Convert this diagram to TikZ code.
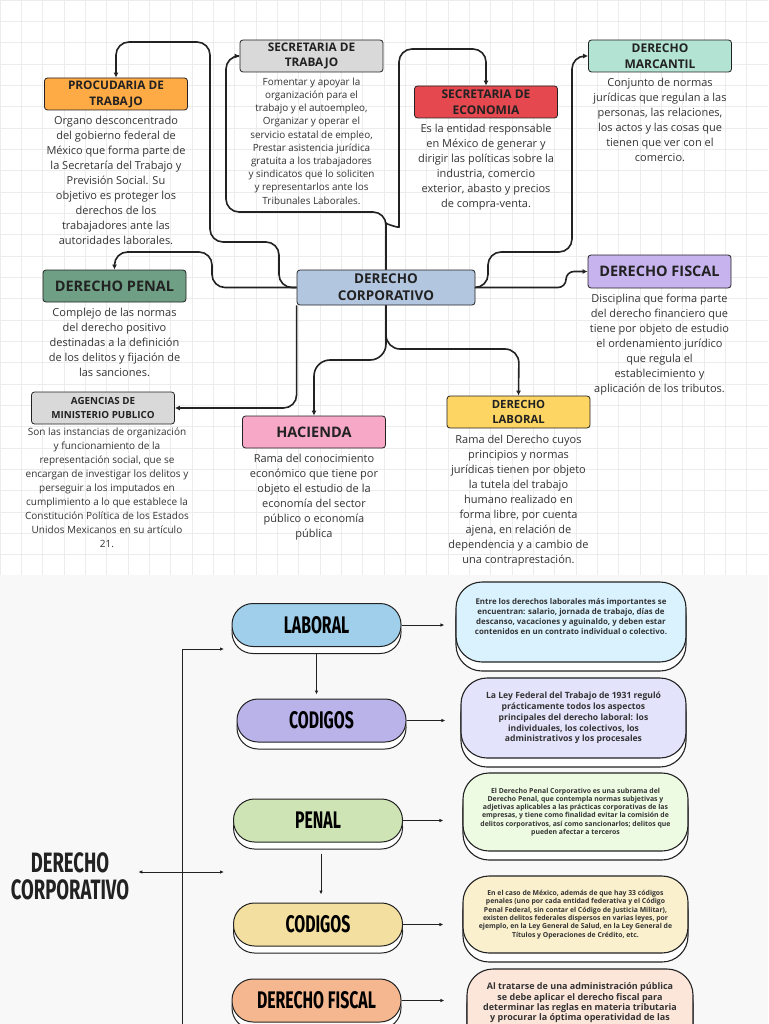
\documentclass[tikz,border=0pt]{standalone}
\usepackage{fontspec}
\setmainfont{Open Sans}
\newfontfamily\handfont[FakeStretch=0.66]{Fira Sans}
\usepackage{tikz}
\usetikzlibrary{arrows.meta, shadows}

\definecolor{ink}{HTML}{222222}
\definecolor{textgray}{HTML}{333333}
\definecolor{gridgray}{HTML}{ECECEC}
\definecolor{lowbg}{HTML}{F8F8F8}
\definecolor{procorange}{HTML}{FFAB45}
\definecolor{boxgray}{HTML}{D9D9D9}
\definecolor{ecored}{HTML}{E5484F}
\definecolor{mercmint}{HTML}{B3E3D3}
\definecolor{penalgreen}{HTML}{6FA085}
\definecolor{corpblue}{HTML}{B3C6E0}
\definecolor{fiscallav}{HTML}{C7B4EF}
\definecolor{hacpink}{HTML}{F6A8C6}
\definecolor{labyellow}{HTML}{FDD562}
\definecolor{pillblue}{HTML}{9FCFEA}
\definecolor{pillviolet}{HTML}{B9B3EA}
\definecolor{pillgreen}{HTML}{CFE4B5}
\definecolor{pillsand}{HTML}{F3DF9F}
\definecolor{pillpeach}{HTML}{F4B78F}
\definecolor{infoblue}{HTML}{D9F2FE}
\definecolor{infoviolet}{HTML}{E3E3FC}
\definecolor{infogreen}{HTML}{EEFBE3}
\definecolor{infosand}{HTML}{FAF0CE}
\definecolor{infopeach}{HTML}{FCE6DA}

\tikzstyle{topbox}  = [rectangle, rounded corners=3pt, draw=ink, line width=0.8pt,
                       minimum width=143pt, minimum height=32pt, align=center,
                       inner sep=1pt, text=ink]
\tikzstyle{desc}    = [anchor=north, align=center, inner sep=0pt, text=textgray,
                       font=\fontsize{11}{15}\selectfont]
\tikzstyle{conn}    = [-{Latex[length=5pt,width=5pt]}, line width=1.6pt, color=ink,
                       rounded corners=13pt]
\tikzstyle{pill}    = [rectangle, rounded corners=21pt, draw=ink, line width=1pt,
                       minimum width=169pt, minimum height=43pt,
                       general shadow={shadow yshift=-7pt, fill=white, draw=ink, line width=1pt},
                       font=\handfont\bfseries\fontsize{24}{24}\selectfont]
\tikzstyle{infobox} = [rectangle, rounded corners=26pt, draw=ink, line width=1.1pt,
                       minimum width=225pt, minimum height=78pt, align=center,
                       general shadow={shadow yshift=-9pt, fill=white, draw=ink, line width=1.1pt},
                       text=textgray]
\tikzstyle{larrow}  = [-{Latex[length=4pt,width=3.5pt]}, line width=0.8pt, color=ink]

\begin{document}
\begin{tikzpicture}[x=1pt, y=1pt]

  \useasboundingbox (0,0) rectangle (768,-1024);
  \clip (0,0) rectangle (768,-1024);

  %% Background
  \fill[white] (0,0) rectangle (768,-575);
  \draw[gridgray, line width=0.5pt, step=21.33pt] (0,-575) grid (768,0);
  \fill[lowbg] (0,-575) rectangle (768,-1024);

  %% Top boxes
  \node[topbox, fill=procorange, font=\bfseries\fontsize{11.8}{16}\selectfont]
        (proc) at (116,-94) {PROCUDARIA DE\\TRABAJO};
  \node[desc] (procdesc) at (116,-116) {Organo desconcentrado\\del gobierno federal de\\
        México que forma parte de\\la Secretaría del Trabajo y\\Previsión Social. Su\\
        objetivo es proteger los\\derechos de los\\trabajadores ante las\\autoridades laborales.};

  \node[topbox, fill=boxgray, font=\bfseries\fontsize{11.8}{15.5}\selectfont]
        (sectra) at (311.5,-56) {SECRETARIA DE\\TRABAJO};
  \node[desc, font=\fontsize{9.9}{13.2}\selectfont] (sectradesc) at (311.5,-77.5)
        {Fomentar y apoyar la\\organización para el\\trabajo y el autoempleo,\\
        Organizar y operar el\\servicio estatal de empleo,\\Prestar asistencia jurídica\\
        gratuita a los trabajadores\\y sindicatos que lo soliciten\\y representarlos ante los\\
        Tribunales Laborales.};

  \node[topbox, fill=ecored, font=\bfseries\fontsize{12}{16}\selectfont]
        (sececo) at (486,-102) {SECRETARIA DE\\ECONOMIA};
  \node[desc] (secdesc) at (486,-124) {Es la entidad responsable\\en México de generar y\\
        dirigir las políticas sobre la\\industria, comercio\\exterior, abasto y precios\\
        de compra-venta.};

  \node[topbox, fill=mercmint, font=\bfseries\fontsize{12}{16}\selectfont]
        (merc) at (660,-56) {DERECHO\\MARCANTIL};
  \node[desc] (mercdesc) at (660,-78) {Conjunto de normas\\jurídicas que regulan a las\\
        personas, las relaciones,\\los actos y las cosas que\\tienen que ver con el\\comercio.};

  %% Middle row
  \node[topbox, fill=penalgreen, font=\bfseries\fontsize{14.5}{16}\selectfont]
        (penal) at (114.5,-286) {DERECHO PENAL};
  \node[desc] (penaldesc) at (114.5,-308) {Complejo de las normas\\del derecho positivo\\
        destinadas a la definición\\de los delitos y fijación de\\las sanciones.};

  \node[topbox, fill=corpblue, minimum width=178pt, minimum height=35pt,
        font=\bfseries\fontsize{13.5}{17}\selectfont]
        (corp) at (386,-287.5) {DERECHO\\CORPORATIVO};

  \node[topbox, fill=fiscallav, minimum height=33pt, font=\bfseries\fontsize{14.5}{16}\selectfont]
        (fiscal) at (659.5,-271.5) {DERECHO FISCAL};
  \node[desc] (fiscaldesc) at (659.5,-294) {Disciplina que forma parte\\del derecho financiero que\\
        tiene por objeto de estudio\\el ordenamiento jurídico\\que regula el\\establecimiento y\\
        aplicación de los tributos.};

  %% Bottom row
  \node[topbox, fill=boxgray, font=\bfseries\fontsize{9.8}{14}\selectfont]
        (agen) at (103,-408) {AGENCIAS DE\\MINISTERIO PUBLICO};
  \node[desc, font=\fontsize{10}{13.9}\selectfont] (agendesc) at (107,-428)
        {Son las instancias de organización\\y funcionamiento de la\\representación social, que se\\
        encargan de investigar los delitos y\\perseguir a los imputados en\\
        cumplimiento a lo que establece la\\Constitución Política de los Estados\\
        Unidos Mexicanos en su artículo\\21.};

  \node[topbox, fill=hacpink, font=\bfseries\fontsize{14.5}{16}\selectfont]
        (hac) at (314,-432) {HACIENDA};
  \node[desc] (hacdesc) at (314,-454) {Rama del conocimiento\\económico que tiene por\\
        objeto el estudio de la\\economía del sector\\público o economía\\pública};

  \node[topbox, fill=labyellow, font=\bfseries\fontsize{11.3}{15}\selectfont]
        (lab) at (518.5,-412) {DERECHO\\LABORAL};
  \node[desc] (labdesc) at (518.5,-435) {Rama del Derecho cuyos\\principios y normas\\
        jurídicas tienen por objeto\\la tutela del trabajo\\humano realizado en\\
        forma libre, por cuenta\\ajena, en relación de\\dependencia y a cambio de\\
        una contraprestación.};

  %% Connectors
  \draw[conn] (corp.west) -| (279,-242) -| (210,-42) -| (proc.north);
  \draw[conn] (corp.west) -| (212,-252) -| (penal.north);
  \draw[conn] (corp.north) |- (226,-212) |- (sectra.west);
  \draw[conn] (corp.north) -- (386,-236) .. controls (386,-224) and (399,-228) .. (399,-214)
        |- (486,-49) -- (sececo.north);
  \draw[conn] (corp.east) -| (488,-252) -| (572,-56) -- (merc.west);
  \draw[conn, rounded corners=8pt] (corp.east) -| (566,-271.5) -- (fiscal.west);
  \draw[conn] (corp.south west) |- (agen.east);
  \draw[conn, rounded corners=16pt] (corp.south) |- (314,-360) -- (hac.north);
  \draw[conn, rounded corners=14pt] (corp.south) |- (519,-349) -- (lab.north);

  %% Lower part: pills
  \node[pill, fill=pillblue]   (lbl)  at (316.5,-625)  {LABORAL};
  \node[pill, fill=pillviolet] (cod1) at (321.5,-720.5) {CODIGOS};
  \node[pill, fill=pillgreen]  (pen)  at (318,-820.5)  {PENAL};
  \node[pill, fill=pillsand]   (cod2) at (318,-924.5)  {CODIGOS};
  \node[pill, fill=pillpeach]  (fis)  at (316.5,-1000.5) {DERECHO FISCAL};

  %% Lower part: info boxes
  \node[infobox, fill=infoblue, minimum width=230pt, minimum height=80pt,
        font=\bfseries\fontsize{7.9}{10}\selectfont] (d1) at (571,-622)
        {Entre los derechos laborales más importantes se\\encuentran: salario, jornada de trabajo, días de\\
        descanso, vacaciones y aguinaldo, y deben estar\\contenidos en un contrato individual o colectivo.\\[2pt]\mbox{}};
  \node[infobox, fill=infoviolet, minimum height=80pt,
        font=\bfseries\fontsize{8.6}{10.8}\selectfont] (d2) at (573.5,-718)
        {La Ley Federal del Trabajo de 1931 reguló\\prácticamente todos los aspectos\\
        principales del derecho laboral: los\\individuales, los colectivos, los\\
        administrativos y los procesales};
  \node[infobox, fill=infogreen, font=\bfseries\fontsize{6.9}{8.3}\selectfont] (d3) at (575.5,-812)
        {El Derecho Penal Corporativo es una subrama del\\Derecho Penal, que contempla normas subjetivas y\\
        adjetivas aplicables a las prácticas corporativas de las\\empresas, y tiene como finalidad evitar la comisión de\\
        delitos corporativos, así como sancionarlos; delitos que\\pueden afectar a terceros};
  \node[infobox, fill=infosand, minimum height=77pt,
        font=\bfseries\fontsize{6.85}{8.4}\selectfont] (d4) at (575.5,-914.5)
        {En el caso de México, además de que hay 33 códigos\\penales (uno por cada entidad federativa y el Código\\
        Penal Federal, sin contar el Código de Justicia Militar),\\existen delitos federales dispersos en varias leyes, por\\
        ejemplo, en la Ley General de Salud, en la Ley General de\\Títulos y Operaciones de Crédito, etc.};
  \node[infobox, fill=infopeach, minimum width=226pt, minimum height=80pt,
        font=\bfseries\fontsize{9}{10.4}\selectfont] (d5) at (580,-1009)
        {Al tratarse de una administración pública\\se debe aplicar el derecho fiscal para\\
        determinar las reglas en materia tributaria\\y procurar la óptima operatividad de las\\[4pt]\mbox{}};

  %% Lower part: title and arrows
  \node[align=center, inner sep=0pt, text=ink, font=\handfont\bfseries\fontsize{28}{27}\selectfont]
        (dcorp) at (70,-876) {DERECHO\\CORPORATIVO};
  \coordinate (trunkbot) at (182,-1030);
  \coordinate (toptip) at (224,-649);
  \coordinate (midtip) at (224,-872);

  \draw[larrow] (trunkbot) |- (toptip);
  \draw[larrow, {Latex[length=4pt,width=3.5pt]}-{Latex[length=4pt,width=3.5pt]}]
        (dcorp.east) ++(9,4) -- (midtip);
  \draw[larrow, shorten <=7pt, shorten >=4pt] (lbl.south) -- (lbl.south |- cod1.north);
  \draw[larrow, shorten <=11pt, shorten >=8pt] ([xshift=3pt]pen.south) -- ([xshift=3pt]pen.south |- cod2.north);

  \draw[larrow, shorten >=11pt] (lbl.east)  -- (lbl.east -| d1.west);
  \draw[larrow, shorten >=15pt] (cod1.east) -- (cod1.east -| d2.west);
  \draw[larrow, shorten >=19pt] (pen.east)  -- (pen.east -| d3.west);
  \draw[larrow, shorten >=19pt] (cod2.east) -- (cod2.east -| d4.west);
  \draw[larrow, shorten >=22pt] (fis.east)  -- (fis.east -| d5.west);

\end{tikzpicture}
\end{document}
